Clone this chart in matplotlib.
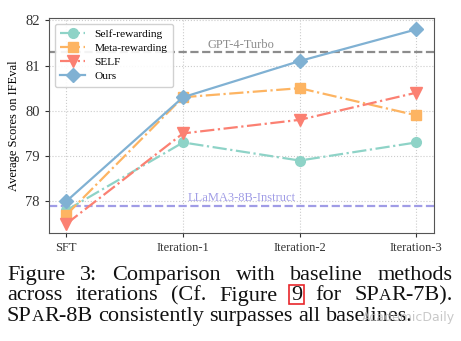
import matplotlib
matplotlib.use("Agg")
import matplotlib.pyplot as plt
from matplotlib.patches import Rectangle

# ---------------------------------------------------------------------------
# Data
# ---------------------------------------------------------------------------
stages = ["SFT", "Iteration-1", "Iteration-2", "Iteration-3"]
self_rewarding = [77.8, 79.3, 78.9, 79.3]
meta_rewarding = [77.7, 80.3, 80.5, 79.9]
self_method = [77.5, 79.5, 79.8, 80.4]
ours = [78.0, 80.3, 81.1, 81.8]
gpt4_turbo = 81.3
llama3_instruct = 77.9
yticks = [78, 79, 80, 81, 82]

caption_lines = [
    ["Figure", "3:", "Comparison", "with", "baseline", "methods"],
    ["across", "iterations", "(Cf.", "Figure", "9", "for", "SPAR-7B)."],
    ["SPAR-8B", "consistently", "surpasses", "all", "baselines."],
]

plt.rcParams["font.family"] = ["Liberation Serif", "DejaVu Serif"]

fig = plt.figure(figsize=(4.61, 3.41), dpi=100)
ax = fig.add_axes([0.106, 0.317, 0.835, 0.630])

x = list(range(len(stages)))
ax.plot(x, self_rewarding, color="#8ed3c7", linestyle="-.", marker="o",
        markersize=7, linewidth=1.6, label="Self-rewarding", zorder=3)
ax.plot(x, meta_rewarding, color="#fdb462", linestyle="-.", marker="s",
        markersize=7, linewidth=1.6, label="Meta-rewarding", zorder=3)
ax.plot(x, self_method, color="#fb8072", linestyle="-.", marker="v",
        markersize=8, linewidth=1.6, label="SELF", zorder=3)
ax.plot(x, ours, color="#80b1d3", linestyle="-", marker="D",
        markersize=7, linewidth=1.6, label="Ours", zorder=4)

ax.axhline(gpt4_turbo, color="#8c8c8c", linestyle="--", linewidth=1.6, zorder=2)
ax.axhline(llama3_instruct, color="#a09ce6", linestyle="--", linewidth=1.6, zorder=2)
ax.text(1.5, gpt4_turbo + 0.03, "GPT-4-Turbo", color="#8c8c8c",
        ha="center", va="bottom", fontsize=9)
ax.text(1.5, llama3_instruct + 0.03, "LLaMA3-8B-Instruct", color="#a09ce6",
        ha="center", va="bottom", fontsize=9)

ax.set_xlim(-0.15, 3.15)
ax.set_ylim(77.3, 82.05)
ax.set_xticks(x)
ax.set_xticklabels(stages, fontsize=9)
ax.set_yticks(yticks)
ax.set_yticklabels([str(v) for v in yticks], fontsize=10.5)
ax.set_ylabel("Average Scores on IFEval", fontsize=9)
ax.grid(True, color="#cccccc", linestyle=":", linewidth=0.8)
for s in ax.spines.values():
    s.set_color("#555555")
ax.tick_params(colors="#333333", length=3)

ax.legend(loc="upper left", fontsize=8.2, frameon=True, framealpha=0.9,
          edgecolor="#cccccc", handlelength=2.2, borderpad=0.5,
          labelspacing=0.35)

# ---------------------------------------------------------------------------
# Caption (justified, small-caps "A" in SPaR)
# ---------------------------------------------------------------------------
fig.canvas.draw()
renderer = fig.canvas.get_renderer()
W, H = fig.bbox.width, fig.bbox.height
left_px, right_px = 7, 453
baselines_px = [280, 300.5, 321]
fs = 16


def word_parts(word):
    if word.startswith("SPAR"):
        return [("SP", fs), ("A", fs * 0.78), ("R" + word[4:], fs)]
    return [(word, fs)]


def word_width(word):
    total = 0
    for txt, size in word_parts(word):
        t = fig.text(0, 0, txt, fontsize=size)
        total += t.get_window_extent(renderer).width
        t.remove()
    return total


for i, words in enumerate(caption_lines):
    widths = [word_width(w) for w in words]
    last = i == len(caption_lines) - 1
    if last:
        gap = fs * 100 / 72 * 0.25
    else:
        gap = (right_px - left_px - sum(widths)) / (len(words) - 1)
    xpos = left_px
    ybase = H - baselines_px[i]
    for w, wd in zip(words, widths):
        cx = xpos
        for txt, size in word_parts(w):
            t = fig.text(cx / W, ybase / H, txt, fontsize=size,
                         va="baseline", ha="left", color="#111111")
            cx += t.get_window_extent(renderer).width
        if w == "9":
            fig.patches.append(Rectangle(((xpos - 1.5) / W, (ybase - 3) / H),
                                         (wd + 3) / W, 19 / H,
                                         transform=fig.transFigure,
                                         fill=False, edgecolor="#e8262b",
                                         linewidth=1.2))
        xpos += wd + gap

fig.text(0.885, 1 - 318 / 341, "AcademicDaily", fontsize=9, color="#bbbbbb",
         family=["DejaVu Sans"], ha="center", va="center", alpha=0.8)

plt.savefig("out.png", dpi=100)
plt.close(fig)
